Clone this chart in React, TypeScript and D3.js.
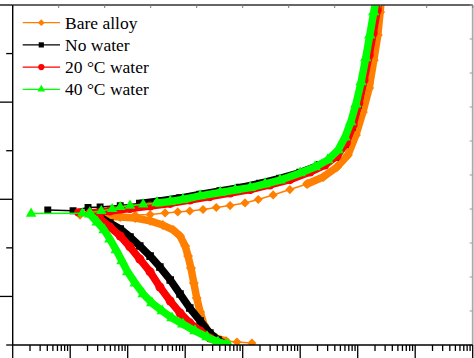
import React from "react";
import * as d3 from "d3";

const WIDTH = 474;
const HEIGHT = 358;
const MARGIN = { top: 5, left: 12.7, right: 1.3, bottom: 13 };

// each point: [log10 of current density (A/cm2), potential (V)]
const bareStart = [[-7.83, -1.465], [-7.39, -1.467]];
const bareAnodicSparse = [
  [-7.39, -1.467], [-7.13, -1.467], [-6.87, -1.465], [-6.61, -1.463], [-6.35, -1.456],
  [-6.13, -1.452], [-5.92, -1.448], [-5.69, -1.442], [-5.46, -1.434], [-5.22, -1.426],
  [-4.96, -1.415], [-4.73, -1.401], [-4.47, -1.382], [-4.18, -1.36], [-3.88, -1.337]
];
const bareAnodicDense = [
  [-3.88, -1.337], [-3.6, -1.308], [-3.36, -1.267], [-3.17, -1.218], [-3.03, -1.135],
  [-2.91, -1.041], [-2.8, -0.942], [-2.72, -0.827], [-2.65, -0.724], [-2.61, -0.629], [-2.59, -0.579]
];
const bareCathodic = [
  [-7.39, -1.469], [-7.13, -1.473], [-6.87, -1.477], [-6.61, -1.489], [-6.39, -1.506],
  [-6.21, -1.526], [-6.09, -1.551], [-6.0, -1.592], [-5.95, -1.634], [-5.9, -1.683],
  [-5.85, -1.745], [-5.8, -1.806], [-5.74, -1.864], [-5.67, -1.918], [-5.59, -1.951],
  [-5.46, -1.971], [-5.29, -1.984]
];
const bareCathodicTail = [[-5.29, -1.984], [-5.1, -1.988], [-4.84, -1.992]];

const noWaterStart = [
  [-8.39, -1.444], [-7.95, -1.447], [-7.69, -1.434], [-7.48, -1.432], [-7.13, -1.426], [-6.79, -1.417]
];
const noWaterAnodic = [
  [-6.79, -1.417], [-6.44, -1.407], [-6.09, -1.395], [-5.74, -1.38], [-5.39, -1.366],
  [-5.05, -1.352], [-4.7, -1.335], [-4.35, -1.314], [-4.0, -1.29], [-3.66, -1.259],
  [-3.39, -1.226], [-3.22, -1.172], [-3.1, -1.102], [-2.99, -1.012], [-2.91, -0.917],
  [-2.82, -0.814], [-2.75, -0.724], [-2.68, -0.629], [-2.65, -0.579]
];
const noWaterCathodic = [
  [-7.62, -1.456], [-7.48, -1.473], [-7.31, -1.498], [-7.13, -1.522], [-6.96, -1.555],
  [-6.79, -1.592], [-6.61, -1.634], [-6.44, -1.679], [-6.26, -1.732], [-6.09, -1.79],
  [-5.92, -1.848], [-5.74, -1.901], [-5.57, -1.951], [-5.43, -1.979], [-5.31, -1.996]
];

const water20Start = [[-7.86, -1.454], [-7.66, -1.456]];
const water20Anodic = [
  [-7.66, -1.456], [-7.31, -1.448], [-6.96, -1.438], [-6.61, -1.428], [-6.26, -1.417],
  [-5.92, -1.403], [-5.57, -1.389], [-5.22, -1.374], [-4.87, -1.36], [-4.53, -1.341],
  [-4.18, -1.319], [-3.83, -1.288], [-3.57, -1.259], [-3.36, -1.222], [-3.2, -1.168],
  [-3.08, -1.094], [-2.98, -1.004], [-2.89, -0.909], [-2.8, -0.806], [-2.73, -0.715],
  [-2.66, -0.621], [-2.63, -0.579]
];
const water20Cathodic = [
  [-7.64, -1.461], [-7.48, -1.481], [-7.31, -1.514], [-7.13, -1.551], [-6.96, -1.596],
  [-6.79, -1.646], [-6.61, -1.699], [-6.44, -1.761], [-6.26, -1.819], [-6.09, -1.868],
  [-5.92, -1.909], [-5.74, -1.942], [-5.57, -1.971], [-5.39, -1.992], [-5.29, -2.0]
];

const water40Start = [
  [-8.68, -1.459], [-7.79, -1.458], [-7.66, -1.454], [-7.46, -1.448], [-7.27, -1.44],
  [-7.13, -1.432], [-6.96, -1.426], [-6.73, -1.421], [-6.49, -1.415]
];
const water40Anodic = [
  [-6.49, -1.415], [-6.26, -1.409], [-6.04, -1.401], [-5.74, -1.386], [-5.39, -1.372],
  [-5.13, -1.362], [-4.87, -1.352], [-4.61, -1.337], [-4.35, -1.321], [-4.0, -1.292],
  [-3.74, -1.267], [-3.52, -1.238], [-3.34, -1.197], [-3.22, -1.144], [-3.12, -1.082],
  [-3.03, -1.008], [-2.94, -0.917], [-2.86, -0.818], [-2.79, -0.724], [-2.72, -0.629], [-2.68, -0.579]
];
const water40Cathodic = [
  [-7.66, -1.461], [-7.53, -1.494], [-7.41, -1.526], [-7.31, -1.564], [-7.2, -1.609],
  [-7.1, -1.654], [-7.0, -1.699], [-6.87, -1.745], [-6.73, -1.79], [-6.58, -1.827],
  [-6.4, -1.86], [-6.23, -1.889], [-6.04, -1.914], [-5.83, -1.942], [-5.62, -1.967],
  [-5.43, -1.988], [-5.26, -1.998]
];

const SERIES = [
  {
    label: "Bare alloy", color: "#ff8000", symbol: "diamond",
    branches: [
      { pts: bareStart, dense: false },
      { pts: bareAnodicSparse, dense: false },
      { pts: bareAnodicDense, dense: true },
      { pts: bareCathodic, dense: true },
      { pts: bareCathodicTail, dense: false }
    ]
  },
  {
    label: "No water", color: "#000000", symbol: "square",
    branches: [
      { pts: noWaterStart, dense: false },
      { pts: noWaterAnodic, dense: true },
      { pts: noWaterCathodic, dense: true }
    ]
  },
  {
    label: "20 \u00b0C water", color: "#ff0000", symbol: "circle",
    branches: [
      { pts: water20Start, dense: false },
      { pts: water20Anodic, dense: true },
      { pts: water20Cathodic, dense: true }
    ]
  },
  {
    label: "40 \u00b0C water", color: "#00ff00", symbol: "triangle",
    branches: [
      { pts: water40Start, dense: false },
      { pts: water40Anodic, dense: true },
      { pts: water40Cathodic, dense: true }
    ]
  }
];

const DECADES = d3.range(-9, -1);
const E_TICKS = d3.range(-2.0, -0.59, 0.2);

const x = d3.scaleLog().domain([1e-9, 1e-1]).range([MARGIN.left, WIDTH - MARGIN.right]);
const y = d3.scaleLinear().domain([-2.0, -0.6]).range([HEIGHT - MARGIN.bottom, MARGIN.top]);
const frameX = d3.scaleLinear().domain([0, 10]).range([MARGIN.left, WIDTH - MARGIN.right]);
const frameY = d3.scaleLinear().domain([0, 10]).range([HEIGHT - MARGIN.bottom, MARGIN.top]);

const line = d3
  .line<number[]>()
  .x(d => x(Math.pow(10, d[0])))
  .y(d => y(d[1]));

const symbolPath = (kind: string, scale: number) => {
  if (kind === "square") return d3.symbol(d3.symbolSquare, 30 * scale)();
  if (kind === "circle") return d3.symbol(d3.symbolCircle, 34 * scale)();
  if (kind === "triangle") return d3.symbol(d3.symbolTriangle, 30 * scale)();
  return d3.symbol(d3.symbolSquare, 26 * scale)();
};

const Marker = ({ kind, color, cx, cy, scale }: any) => (
  <path
    d={symbolPath(kind, scale) || ""}
    fill={color}
    transform={`translate(${cx},${cy})${kind === "diamond" ? " rotate(45)" : ""}`}
  />
);

const SERIF = "'Liberation Serif', 'Times New Roman', 'DejaVu Serif', serif";

export default function App() {
  const x0 = MARGIN.left;
  const x1 = WIDTH - MARGIN.right;
  const y0 = HEIGHT - MARGIN.bottom;
  const y1 = MARGIN.top;

  const xTicks: { v: number; major: boolean }[] = [];
  DECADES.forEach(d => {
    for (let m = 1; m < 10; m++) xTicks.push({ v: m * Math.pow(10, d), major: m === 1 });
  });
  xTicks.push({ v: 1e-1, major: true });

  return (
    <svg
      width={WIDTH}
      height={HEIGHT}
      style={{ position: "absolute", left: 0, top: 0, background: "#fff" }}
    >
      <defs>
        <clipPath id="plot">
          <rect x={x0} y={y1} width={x1 - x0} height={y0 - y1} />
        </clipPath>
      </defs>

      <g clipPath="url(#plot)">
        {SERIES.map(s => (
          <g key={s.label}>
            {s.branches.map((b, i) => (
              <g key={i}>
                <path
                  d={line(b.pts as number[][]) || ""}
                  fill="none"
                  stroke={s.color}
                  strokeWidth={b.dense ? 7.5 : 1.5}
                  strokeLinejoin="round"
                  strokeLinecap="round"
                />
                {b.pts.map((p, j) => (
                  <Marker
                    key={j}
                    kind={s.symbol}
                    color={s.color}
                    cx={x(Math.pow(10, p[0]))}
                    cy={y(p[1])}
                    scale={b.dense ? 1.9 : 1.6}
                  />
                ))}
              </g>
            ))}
          </g>
        ))}
      </g>

      {/* top and right frame */}
      <line x1={x0} x2={x1} y1={y1} y2={y1} stroke="#333" strokeWidth={1.3} />
      <line x1={x1} x2={x1} y1={y1} y2={y0} stroke="#aaa" strokeWidth={1.8} />
      {frameX.ticks(10).map(t => (
        <line key={"tx" + t} x1={frameX(t)} x2={frameX(t)} y1={y1} y2={y1 + 3} stroke="#777" strokeWidth={1} />
      ))}
      {frameY.ticks(10).map(t => (
        <line key={"ty" + t} x1={x1 - 3} x2={x1} y1={frameY(t)} y2={frameY(t)} stroke="#999" strokeWidth={1} />
      ))}

      {/* bottom axis */}
      <line x1={x0} x2={x1} y1={y0} y2={y0} stroke="#000" strokeWidth={1.4} />
      {xTicks.map(t => (
        <line
          key={"x" + t.v}
          x1={x(t.v)}
          x2={x(t.v)}
          y1={y0}
          y2={y0 + (t.major ? 14 : 6)}
          stroke="#000"
          strokeWidth={1.3}
        />
      ))}

      {/* left axis */}
      <line x1={x0} x2={x0} y1={y1} y2={y0} stroke="#000" strokeWidth={1.4} />
      {E_TICKS.map((t, i) => (
        <line
          key={"y" + i}
          x1={x0 - (i % 2 === 1 ? 14 : 6.5)}
          x2={x0}
          y1={y(t)}
          y2={y(t)}
          stroke="#000"
          strokeWidth={1.3}
        />
      ))}

      {/* legend */}
      {SERIES.map((s, i) => {
        const ly = 22.7 + i * 22.2;
        return (
          <g key={"lg" + s.label}>
            <line x1={22.7} x2={60} y1={ly} y2={ly} stroke={s.color} strokeWidth={1.2} />
            <Marker kind={s.symbol} color={s.color} cx={41.3} cy={ly} scale={0.9} />
            <text
              x={65}
              y={ly}
              dy="0.35em"
              style={{ fontFamily: SERIF, fontSize: "17.5px" }}
              fill="#000"
            >
              {s.label}
            </text>
          </g>
        );
      })}
    </svg>
  );
}
